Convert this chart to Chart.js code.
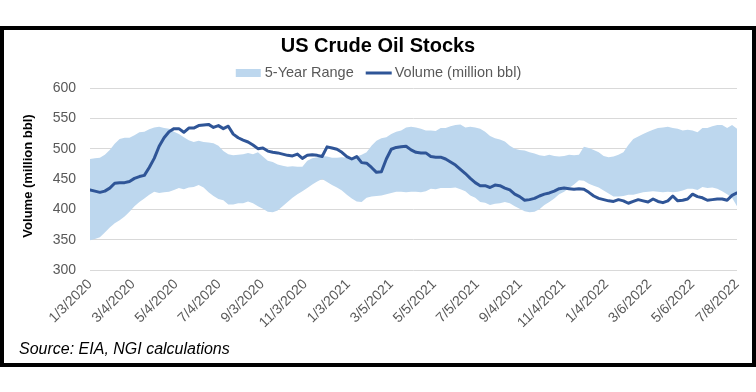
<!DOCTYPE html>
<html><head><meta charset="utf-8">
<script src="https://cdn.jsdelivr.net/npm/chart.js@4.4.1/dist/chart.umd.min.js"></script>
<style>html,body{margin:0;padding:0;background:#fff;overflow:hidden}#wrap{width:756px;height:392px;position:relative}</style>
</head><body><div id="wrap"><canvas id="c" width="756" height="392"></canvas></div>
<script>
const chartTitle = 'US Crude Oil Stocks';
const sourceNote = 'Source: EIA, NGI calculations';
const yAxisTitle = 'Volume (million bbl)';
const rangeName = '5-Year Range';
const volumeName = 'Volume (million bbl)';
const firstWeek = '1/3/2020';
const xTickLabels = ['1/3/2020','3/4/2020','5/4/2020','7/4/2020','9/3/2020','11/3/2020','1/3/2021','3/5/2021','5/5/2021','7/5/2021','9/4/2021','11/4/2021','1/4/2022','3/6/2022','5/6/2022','7/8/2022'];
const yMin = 300, yMax = 600, yStep = 50;

// weekly values, million bbl
const volume = [
 432,430,428,430,435,443,444,444,446,451,454,456,469,484,504,518,528,533,533,527,534,534,538,
 539,540,535,538,533,537,524,518,514,511,506,500,501,496,494,493,491,489,488,491,484,489,
 490,489,487,503,501,499,494,487,483,487,477,476,469,461,462,483,499,502,503,504,498,494,
 493,493,487,486,486,483,478,473,466,459,451,444,439,439,436,440,439,435,432,425,421,415,
 416,418,422,425,427,430,434,435,434,433,434,433,428,422,418,416,414,413,416,414,410,413,
 416,414,412,417,413,411,414,422,414,415,417,425,421,419,415,416,417,417,415,423,427];
const rangeMax = [
 483,484,485,490,498,508,516,518,518,522,527,528,532,535,536,534,533,528,524,519,514,511,513,
 511,510,509,505,496,491,489,490,491,493,491,494,487,480,478,474,472,470,471,470,470,480,
 484,486,488,487,485,485,486,485,485,487,490,494,505,513,517,519,524,528,530,535,536,535,
 533,530,530,529,534,534,537,539,540,535,536,535,533,528,521,517,515,512,505,500,498,497,
 494,492,489,488,490,488,487,488,490,489,490,503,501,498,494,488,486,487,490,494,506,516,
 520,524,528,531,534,535,536,534,533,530,531,530,527,534,534,537,539,539,534,539,533];
const rangeMin = [
 349,351,354,362,370,377,382,388,396,405,412,418,424,429,427,428,429,432,435,433,436,437,440,
 436,428,422,417,415,408,408,410,410,413,410,405,401,396,395,398,405,412,419,425,430,435,
 441,446,450,445,440,436,431,424,418,413,412,419,421,422,423,425,427,429,429,428,429,429,
 428,430,434,433,435,435,435,436,433,430,423,419,412,411,407,409,410,412,410,405,401,397,
 395,396,400,407,412,418,425,429,435,441,448,447,442,439,436,431,426,421,421,422,424,424,
 426,428,429,430,429,428,429,428,429,431,434,434,432,437,435,436,434,430,425,419,405];

const COL_RANGE = '#BDD7EE';
const COL_LINE = '#2F5597';
const COL_TEXT = '#595959';
const COL_GRID = '#D9D9D9';
const FONT = '"Liberation Sans", Arial, sans-serif';

function dayNum(s){ const p = s.split('/').map(Number); return Date.UTC(p[2], p[0]-1, p[1]) / 86400000; }
const day0 = dayNum(firstWeek);
const xTickDays = xTickLabels.map(s => dayNum(s) - day0);
const weekDay = i => i * 7;

const decor = {
  id: 'decor',
  beforeDraw(chart){
    const ctx = chart.ctx;
    ctx.save(); ctx.fillStyle = '#fff'; ctx.fillRect(0,0,chart.width,chart.height); ctx.restore();
  },
  afterDraw(chart){
    const ctx = chart.ctx;
    ctx.save();
    // frame
    ctx.strokeStyle = '#000'; ctx.lineWidth = 4;
    ctx.strokeRect(2, 28, 752, 337);
    // title
    ctx.fillStyle = '#000'; ctx.font = 'bold 20px ' + FONT;
    ctx.textAlign = 'center'; ctx.textBaseline = 'alphabetic';
    ctx.fillText(chartTitle, 378, 52);
    // legend
    ctx.font = '14.5px ' + FONT; ctx.textBaseline = 'middle'; ctx.textAlign = 'left';
    const w1 = ctx.measureText(rangeName).width, w2 = ctx.measureText(volumeName).width;
    const total = 25 + 4 + w1 + 12 + 26 + 3 + w2;
    let x = 378.5 - total/2; const ly = 73;
    ctx.fillStyle = COL_RANGE; ctx.fillRect(x, ly-4, 25, 8);
    x += 29; ctx.fillStyle = COL_TEXT; ctx.fillText(rangeName, x, ly);
    x += w1 + 12;
    ctx.strokeStyle = COL_LINE; ctx.lineWidth = 3; ctx.beginPath(); ctx.moveTo(x, ly); ctx.lineTo(x+26, ly); ctx.stroke();
    x += 29; ctx.fillStyle = COL_TEXT; ctx.fillText(volumeName, x, ly);
    // y axis title
    ctx.save(); ctx.translate(28, 176); ctx.rotate(-Math.PI/2);
    ctx.fillStyle = '#000'; ctx.font = 'bold 13px ' + FONT; ctx.textAlign = 'center'; ctx.textBaseline = 'middle';
    ctx.fillText(yAxisTitle, 0, 0); ctx.restore();
    // source
    ctx.fillStyle = '#000'; ctx.font = 'italic 16px ' + FONT; ctx.textAlign = 'left'; ctx.textBaseline = 'middle';
    ctx.fillText(sourceNote, 19, 350);
    ctx.restore();
  }
};

new Chart(document.getElementById('c'), {
  type: 'line',
  data: {
    datasets: [
      { label: volumeName, data: volume.map((v,i)=>({x: weekDay(i), y: v})), borderColor: COL_LINE, borderWidth: 3, pointRadius: 0, tension: 0, fill: false, borderJoinStyle: 'round', borderCapStyle: 'round' },
      { label: rangeName, data: rangeMax.map((v,i)=>({x: weekDay(i), y: v})), borderWidth: 0, borderColor: COL_RANGE, backgroundColor: COL_RANGE, pointRadius: 0, tension: 0, fill: 2 },
      { label: rangeName + ' min', data: rangeMin.map((v,i)=>({x: weekDay(i), y: v})), borderWidth: 0, borderColor: COL_RANGE, pointRadius: 0, tension: 0, fill: false }
    ]
  },
  options: {
    responsive: false, animation: false, devicePixelRatio: 1,
    layout: { padding: { left: 0, right: 19, top: 88, bottom: 62 } },
    plugins: { legend: { display: false }, tooltip: { enabled: false }, title: { display: false } },
    scales: {
      x: {
        type: 'linear', min: 0, max: xTickDays[xTickDays.length-1],
        afterBuildTicks: s => { s.ticks = xTickDays.map(v => ({ value: v })); },
        afterFit: s => { s.height = 60; },
        grid: { display: false, drawTicks: false }, border: { display: false },
        ticks: { autoSkip: false, maxRotation: 45, minRotation: 45, padding: 6, color: COL_TEXT, font: { family: FONT, size: 14 },
          callback: (v, i) => xTickLabels[i] }
      },
      y: {
        min: yMin, max: yMax,
        afterFit: s => { s.width = 90; },
        grid: { color: COL_GRID, lineWidth: 1, drawTicks: false }, border: { display: false },
        ticks: { stepSize: yStep, padding: 14, color: COL_TEXT, font: { family: FONT, size: 14 } }
      }
    }
  },
  plugins: [decor]
});
</script></body></html>
